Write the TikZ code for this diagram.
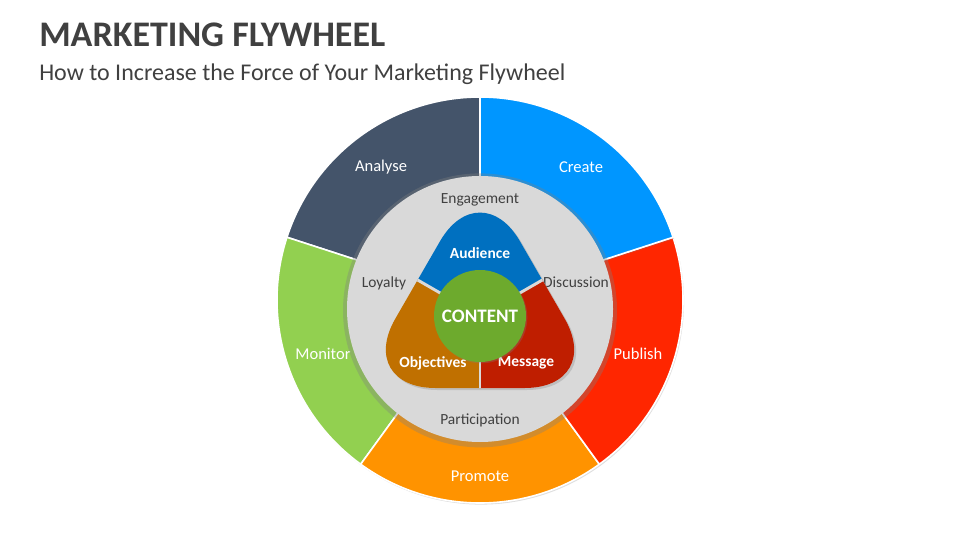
\documentclass[tikz,border=0pt]{standalone}
\usepackage{fontspec}
\setmainfont{Carlito}
\usepackage{xcolor}
\usetikzlibrary{positioning, calc, shadows}

\definecolor{titlegray}{HTML}{404040}
\definecolor{analysecol}{HTML}{44546A}
\definecolor{createcol}{HTML}{0096FF}
\definecolor{publishcol}{HTML}{FF2600}
\definecolor{promotecol}{HTML}{FF9300}
\definecolor{monitorcol}{HTML}{92D050}
\definecolor{hubgray}{HTML}{D9D9D9}
\definecolor{audiencecol}{HTML}{0070C0}
\definecolor{objectivescol}{HTML}{C07000}
\definecolor{messagecol}{HTML}{BF1E00}
\definecolor{contentcol}{HTML}{6DAA2D}

\begin{document}
\begin{tikzpicture}[
  x=0.75pt, y=0.75pt,
  slice/.style={draw=white, line width=1.2pt, line join=round,
                drop shadow={opacity=0.25, shadow xshift=0.8pt, shadow yshift=-1.2pt}},
  ringlabel/.style={text=white, inner sep=0pt, font=\fontsize{12.4}{14}\selectfont},
  hublabel/.style={text=titlegray, inner sep=0pt, font=\fontsize{11.6}{14}\selectfont},
  piecelabel/.style={text=white, inner sep=0pt, font=\bfseries\fontsize{11.6}{14}\selectfont},
  gap/.style={draw=hubgray, line width=2.2pt},
  tri/.style={rounded corners=60pt}]
  \useasboundingbox (0,0) rectangle (960,540);

  \node[anchor=base west, inner sep=0pt, text=titlegray, font=\bfseries\fontsize{27}{30}\selectfont] (title) at (39,493) {MARKETING FLYWHEEL};
  \node[anchor=base west, inner sep=0pt, text=titlegray, font=\fontsize{18}{22}\selectfont] (subtitle) at (39,459) {How to Increase the Force of Your Marketing Flywheel};

  % outer ring
  \coordinate (wheel) at (480,240);
  \fill[analysecol, slice] (wheel) -- ++(90:203) arc[start angle=90, end angle=162, radius=203] -- cycle;
  \fill[monitorcol, slice] (wheel) -- ++(162:203) arc[start angle=162, end angle=234, radius=203] -- cycle;
  \fill[promotecol, slice] (wheel) -- ++(234:203) arc[start angle=234, end angle=306, radius=203] -- cycle;
  \fill[publishcol, slice] (wheel) -- ++(306:203) arc[start angle=306, end angle=378, radius=203] -- cycle;
  \fill[createcol, slice] (wheel) -- ++(18:203) arc[start angle=18, end angle=90, radius=203] -- cycle;

  \node[ringlabel] (analyse) at (381,373) {Analyse};
  \node[ringlabel] (create) at (581,373) {Create};
  \node[ringlabel] (publish) at (638,186) {Publish};
  \node[ringlabel] (promote) at (480,64) {Promote};
  \node[ringlabel] (monitor) at (323,186) {Monitor};

  % grey hub
  \node[circle, fill=hubgray, minimum size=199.5pt, inner sep=0pt,
        drop shadow={opacity=0.35, shadow xshift=0pt, shadow yshift=-1pt, shadow scale=1.03}] (hub) at (480,231) {};
  \node[hublabel] (engagement) at (480,340) {Engagement};
  \node[hublabel] (participation) at (480,120) {Participation};
  \node[hublabel] (loyalty) at (384,257) {Loyalty};
  \node[hublabel] (discussion) at (576,258) {Discussion};

  % rounded triangle
  \coordinate (tri) at (480,224);
  \coordinate (top) at (480,368);
  \coordinate (left) at (355.3,152);
  \coordinate (right) at (604.7,152);
  \fill[hubgray, tri, drop shadow={opacity=0.3, shadow xshift=1.5pt, shadow yshift=-1.5pt}] (top) -- (left) -- (right) -- cycle;
  \begin{scope}
    \clip[tri] (top) -- (left) -- (right) -- cycle;
    \fill[audiencecol] (tri) -- ([shift={(150:200)}]tri) -- ([shift={(90:200)}]tri) -- ([shift={(30:200)}]tri) -- cycle;
    \fill[objectivescol] (tri) -- ([shift={(150:200)}]tri) -- ([shift={(210:200)}]tri) -- ([shift={(270:200)}]tri) -- cycle;
    \fill[messagecol] (tri) -- ([shift={(270:200)}]tri) -- ([shift={(330:200)}]tri) -- ([shift={(30:200)}]tri) -- cycle;
    \draw[gap] (tri) -- ([shift={(150:90)}]tri);
    \draw[gap] (tri) -- ([shift={(30:90)}]tri);
    \draw[gap] (tri) -- ([shift={(270:90)}]tri);
  \end{scope}
  \node[piecelabel] (audience) at (480,287) {Audience};
  \node[piecelabel] (objectives) at (433,177) {Objectives};
  \node[piecelabel] (message) at (526,177) {Message};

  \node[circle, fill=contentcol, minimum size=69pt, inner sep=0pt, text=white,
        font=\bfseries\fontsize{14.3}{16}\selectfont,
        drop shadow={opacity=0.3, shadow xshift=1pt, shadow yshift=-1pt}] (content) at (tri) {CONTENT};
\end{tikzpicture}
\end{document}
